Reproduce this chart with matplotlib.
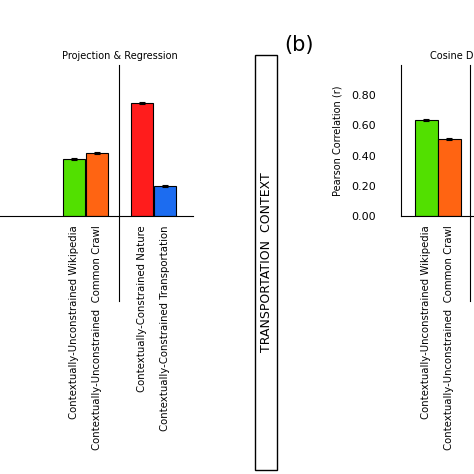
import matplotlib.pyplot as plt
from matplotlib.patches import Rectangle

labels = ["Contextually-Unconstrained Wikipedia", "Contextually-Unconstrained  Common Crawl",
          "Contextually-Constrained Nature", "Contextually-Constrained Transportation"]
colors = ["#52e000", "#ff6412", "#ff1c1c", "#1c6cf0"]
proj_vals = [0.377, 0.417, 0.747, 0.198]
proj_err = [0.008, 0.008, 0.006, 0.008]
cos_vals = [0.635, 0.51]
cos_err = [0.006, 0.006]
yticks = [0.0, 0.2, 0.4, 0.6, 0.8]

W = 474
fig = plt.figure(figsize=(4.74, 4.74), dpi=100)
plt.rcParams['font.family'] = 'DejaVu Sans'

def px_axes(x0, x1):
    return fig.add_axes([x0 / W, (W - 216) / W, (x1 - x0) / W, 151 / W])

# left panel
ax = px_axes(0, 193)
ax.set_xlim(0, 193)
ax.set_ylim(0, 1.0)
xs = [74, 97, 142, 165]
ax.bar(xs, proj_vals, width=22, color=colors, edgecolor="black", linewidth=0.8,
       yerr=proj_err, capsize=2.5, error_kw=dict(elinewidth=0.8, capthick=0.8))
for s in ["top", "right", "left"]:
    ax.spines[s].set_visible(False)
ax.set_xticks([]); ax.set_yticks([])
ax.plot([119, 119], [-0.56, 1.0], color="black", lw=0.8, clip_on=False)
for x, lab in zip(xs, labels):
    ax.text(x, -0.06, lab, rotation=90, ha="center", va="top", fontsize=7.3)
fig.text(120 / W, 1 - 56 / W, "Projection & Regression", ha="center", va="center", fontsize=7)

# right panel
ax2 = px_axes(401, 474)
ax2.set_xlim(401, 474)
ax2.set_ylim(0, 1.0)
xs2 = [426, 449]
ax2.bar(xs2, cos_vals, width=23, color=colors[:2], edgecolor="black", linewidth=0.8,
        yerr=cos_err, capsize=2.5, error_kw=dict(elinewidth=0.8, capthick=0.8))
ax2.spines["top"].set_visible(False)
ax2.spines["right"].set_visible(False)
ax2.set_xticks([])
ax2.set_yticks(yticks)
ax2.set_yticklabels([f"{v:.2f}" for v in yticks], fontsize=8)
ax2.tick_params(axis="y", length=0, pad=18)
ax2.set_ylabel("Pearson Correlation (r)", fontsize=7, labelpad=6)
ax2.plot([470, 470], [-0.56, 1.0], color="black", lw=0.8, clip_on=False)
for x, lab in zip(xs2, labels[:2]):
    ax2.text(x, -0.06, lab, rotation=90, ha="center", va="top", fontsize=7.3)
fig.text(430 / W, 1 - 56 / W, "Cosine Distance", ha="left", va="center", fontsize=7)

# middle box and panel letter
fig.patches.append(Rectangle((255 / W, 1 - 470 / W), 22 / W, 415 / W, transform=fig.transFigure,
                             fill=False, edgecolor="black", lw=1.0))
fig.text(266 / W, 1 - 262 / W, "TRANSPORTATION  CONTEXT", rotation=90, ha="center", va="center", fontsize=9)
fig.text(284 / W, 1 - 45 / W, "(b)", ha="left", va="center", fontsize=15)

fig.savefig("out.png", dpi=100)
